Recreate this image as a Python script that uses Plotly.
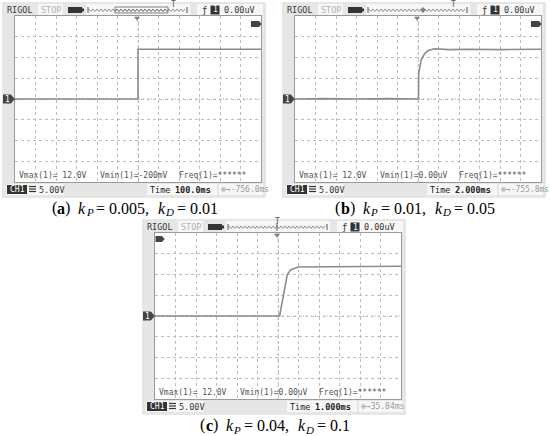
import plotly.graph_objects as go

W, H = 550, 436

# ---------------- data ----------------
panel_ids = ["a", "b", "c"]
time_per_div = [100.0, 2.0, 1.0]          # ms / div
volt_per_div = [5.0, 5.0, 5.0]            # V / div
t_a = [-600, 0, 0, 600]
v_a = [0, 0, 12, 12]
t_b = [-12, -9, -6, -3, 0.05, 0.07, 0.32, 0.64, 0.98, 1.62, 3, 5, 8, 10, 12]
v_b = [0, 0.1, 0, 0.1, 0, 6.2, 9.5, 10.9, 11.7, 12.1, 11.9, 12.0, 11.9, 12.0, 12.0]
t_c = [-6, 0.08, 0.45, 0.61, 0.98, 6]
v_c = [0, 0, 9.9, 11.1, 11.8, 12]
series_t = [t_a, t_b, t_c]
series_v = [v_a, v_b, v_c]
vmax_labels = ["12.0V", "12.0V", "12.0V"]
vmin_labels = ["-200mV", "0.00uV", "0.00uV"]
time_labels = ["100.0ms", "2.000ms", "1.000ms"]
offset_labels = ["-756.0ms", "-755.8ms", "35.84ms"]
kp_labels = ["0.005", "0.01", "0.04"]
kd_labels = ["0.01", "0.05", "0.1"]

# panel origins in pixels (layout only)
origins = [(0, 0), (280, 0), (140, 217)]

def px(x):
    return x / W

def py(y):
    return 1 - y / H

MONO = "DejaVu Sans Mono"
SERIF = "Liberation Serif"
shapes = []
annotations = []

def rect(x0, y0, x1, y1, fill, line="rgba(0,0,0,0)", lw=0):
    shapes.append(dict(type="rect", xref="paper", yref="paper",
                       x0=px(x0), x1=px(x1), y0=py(y1), y1=py(y0),
                       fillcolor=fill, line=dict(color=line, width=lw), layer="below"))

def line(x0, y0, x1, y1, color="#666", w=1, dash="solid", layer="above"):
    shapes.append(dict(type="line", xref="paper", yref="paper",
                       x0=px(x0), x1=px(x1), y0=py(y0), y1=py(y1),
                       line=dict(color=color, width=w, dash=dash), layer=layer))

def path(pts, color="#666", w=1, fill=None):
    d = "M " + " L ".join(f"{px(x):.5f},{py(y):.5f}" for x, y in pts)
    if fill:
        d += " Z"
    shapes.append(dict(type="path", xref="paper", yref="paper", path=d,
                       line=dict(color=color, width=w),
                       fillcolor=fill if fill else "rgba(0,0,0,0)", layer="above"))

def text(x, y, s, size=8, color="#333", anchor="left", family=MONO,
         weight="normal", style="normal"):
    annotations.append(dict(xref="paper", yref="paper", x=px(x), y=py(y), text=s,
                            showarrow=False, xanchor=anchor, yanchor="middle",
                            borderpad=0,
                            font=dict(family=family, size=size, color=color,
                                      weight=weight, style=style)))

# Times-metric advance widths (per em) for caption layout
W_REG = {"(": .333, ")": .333, " ": .25, "=": .564, ".": .25, ",": .25}
W_BOLD = {"a": .5, "b": .556, "c": .444}
W_ITAL = {"k": .444, "P": .611, "D": .722}

def run_width(s, size, kind):
    table = {"r": W_REG, "b": W_BOLD, "i": W_ITAL}[kind]
    return sum(table.get(ch, .5) for ch in s) * size

def caption(cx, cy, pid, kp, kd):
    S, SS = 16, 11
    runs = [("(", S, "r", 0), (pid, S, "b", 0), (")", S, "r", 0), (None, .5 * S),
            ("k", S, "i", 0), ("P", SS, "i", 4.5), (None, .25 * S), ("=", S, "r", 0),
            (None, .25 * S), (kp + ",", S, "r", 0), (None, .55 * S),
            ("k", S, "i", 0), ("D", SS, "i", 4.5), (None, .25 * S), ("=", S, "r", 0),
            (None, .25 * S), (kd, S, "r", 0)]
    total = sum(r[1] if r[0] is None else run_width(r[0], r[1], r[2]) for r in runs)
    x = cx - total / 2
    for r in runs:
        if r[0] is None:
            x += r[1]
            continue
        s, size, kind, dy = r
        text(x, cy + dy, s, size, "#000", "left", SERIF,
             weight="bold" if kind == "b" else "normal",
             style="italic" if kind == "i" else "normal")
        x += run_width(s, size, kind)

fig = go.Figure()
layout_axes = {}

for i, pid in enumerate(panel_ids):
    ox, oy = origins[i]
    s = time_per_div[i]
    vd = volt_per_div[i]
    X = lambda x: ox + x
    Y = lambda y: oy + y

    # frame background
    rect(X(2), Y(2), X(266), Y(198), "#e6e6e6")
    # top bar
    text(X(6), Y(10), "RIGOL", 8.5, "#3a3a3a")
    rect(X(38), Y(4), X(63), Y(15), "#f7f7f7")
    text(X(50.5), Y(10), "STOP", 8.5, "#b0b0b0", "center")
    rect(X(68), Y(7), X(82), Y(13), "#333333")
    rect(X(82), Y(8.5), X(84), Y(11.5), "#333333")
    rect(X(86), Y(4), X(190), Y(15), "#f7f7f7")
    # memory bar bracket
    line(X(88), Y(7), X(88), Y(13), "#555")
    line(X(187), Y(7), X(187), Y(13), "#555")
    zig = [(X(89 + k * 2), Y(9 if k % 2 == 0 else 11.5)) for k in range(49)]
    path(zig, "#777", 0.8)
    if i == 0:
        path([(X(115), Y(7)), (X(168), Y(7)), (X(168), Y(13)), (X(115), Y(13)), (X(115), Y(7))], "#666", 0.8)
        zig2 = [(X(115 + k * 2), Y(11.5 if k % 2 == 0 else 9)) for k in range(27)]
        path(zig2, "#777", 0.8)
        text(X(173), Y(5), "T", 8, "#555", "center")
    elif i == 1:
        path([(X(143), Y(7.5)), (X(145), Y(10)), (X(143), Y(12.5)), (X(141), Y(10)), (X(143), Y(7.5))], "#666", 0.8, "#888")
        text(X(173), Y(5), "T", 8, "#555", "center")
    else:
        line(X(137), Y(6), X(137), Y(14), "#555", 1)
        text(X(137), Y(5), "T", 8, "#555", "center")
    rect(X(197), Y(4), X(263), Y(15), "#f7f7f7")
    text(X(204), Y(10), "ƒ", 9, "#333", "center")
    rect(X(210.5), Y(5.5), X(219.5), Y(14.5), "#333333")
    text(X(215), Y(10), "1", 8, "#ffffff", "center")
    text(X(223), Y(10), "0.00uV", 8.5, "#333")

    # screen
    rect(X(15), Y(16), X(261), Y(182), "#ffffff")
    xa = "xaxis" if i == 0 else f"xaxis{i + 1}"
    ya = "yaxis" if i == 0 else f"yaxis{i + 1}"
    xr = "x" if i == 0 else f"x{i + 1}"
    yr = "y" if i == 0 else f"y{i + 1}"
    layout_axes[xa] = dict(domain=[px(X(15)), px(X(261))], range=[-6 * s, 6 * s],
                           dtick=s, tick0=0, showgrid=True, griddash="dot",
                           gridcolor="#bdbdbd", gridwidth=1, zeroline=False,
                           showticklabels=False, ticks="", showline=True, mirror=True,
                           linecolor="#999999", linewidth=1, anchor=yr, fixedrange=True)
    layout_axes[ya] = dict(domain=[py(Y(182)), py(Y(16))], range=[-4 * vd, 4 * vd],
                           dtick=vd, tick0=0, showgrid=True, griddash="dot",
                           gridcolor="#bdbdbd", gridwidth=1, zeroline=False,
                           showticklabels=False, ticks="", showline=True, mirror=True,
                           linecolor="#999999", linewidth=1, anchor=xr, fixedrange=True)
    # center cross lines
    shapes.append(dict(type="line", xref=xr, yref=f"{yr} domain", x0=0, x1=0, y0=0, y1=1,
                       line=dict(color="#a5a5a5", width=1, dash="1px,3px"), layer="below"))
    shapes.append(dict(type="line", xref=f"{xr} domain", yref=yr, x0=0, x1=1, y0=0, y1=0,
                       line=dict(color="#a5a5a5", width=1, dash="1px,3px"), layer="below"))

    fig.add_trace(go.Scatter(x=series_t[i], y=series_v[i], mode="lines",
                             line=dict(color="#8c8c8c", width=1.6),
                             xaxis=xr, yaxis=yr, hoverinfo="skip", showlegend=False))

    # screen markers
    path([(X(134.5), Y(17)), (X(139.5), Y(17)), (X(137), Y(20.5)), (X(134.5), Y(17))], "#777", 0.5, "#888")
    if i < 2:
        rect(X(251), Y(21), X(259), Y(27), "#444444")
        path([(X(259), Y(21.5)), (X(261.5), Y(24)), (X(259), Y(26.5)), (X(259), Y(21.5))], "#444", 0.5, "#444")
    else:
        rect(X(15.5), Y(19), X(22), Y(25), "#444444")
        path([(X(22), Y(19.5)), (X(24.5), Y(22)), (X(22), Y(24.5)), (X(22), Y(19.5))], "#444", 0.5, "#444")
    rect(X(3), Y(94.5), X(11), Y(103.5), "#444444")
    path([(X(11), Y(95)), (X(14.5), Y(99)), (X(11), Y(103)), (X(11), Y(95))], "#444", 0.5, "#444")
    text(X(7), Y(99), "1", 8, "#ffffff", "center")

    # measurement text
    text(X(18), Y(175), f"Vmax(1)= {vmax_labels[i]}", 8, "#555")
    text(X(99), Y(175), f"Vmin(1)={vmin_labels[i]}", 8, "#555")
    text(X(178), Y(175), "Freq(1)=******", 8, "#555")

    # bottom bar
    rect(X(6), Y(184), X(64), Y(195), "#f7f7f7")
    rect(X(7), Y(185), X(27), Y(194), "#333333")
    text(X(17), Y(189.5), "CH1", 8, "#ffffff", "center")
    for k in range(3):
        line(X(29), Y(186.5 + k * 2.5), X(36), Y(186.5 + k * 2.5), "#333", 1.2)
    text(X(38), Y(189.5), "5.00V", 8.5, "#333")
    rect(X(147), Y(184), X(217), Y(195), "#f7f7f7")
    text(X(149), Y(189.5), "Time", 8.5, "#222")
    text(X(174), Y(189.5), time_labels[i], 8.5, "#222", weight="bold")
    rect(X(219), Y(184), X(263), Y(195), "#f7f7f7")
    text(X(220), Y(189.5), f"⊕→{offset_labels[i]}", 8, "#999")

    # caption
    caption(X(134), Y(208), pid, kp_labels[i], kd_labels[i])

fig.update_layout(width=W, height=H, margin=dict(l=0, r=0, t=0, b=0),
                  paper_bgcolor="#ffffff", plot_bgcolor="rgba(0,0,0,0)",
                  shapes=shapes, annotations=annotations, showlegend=False,
                  **layout_axes)
fig.write_html("out.html", config={"displayModeBar": False},
               post_script="document.body.style.margin='0px';")
